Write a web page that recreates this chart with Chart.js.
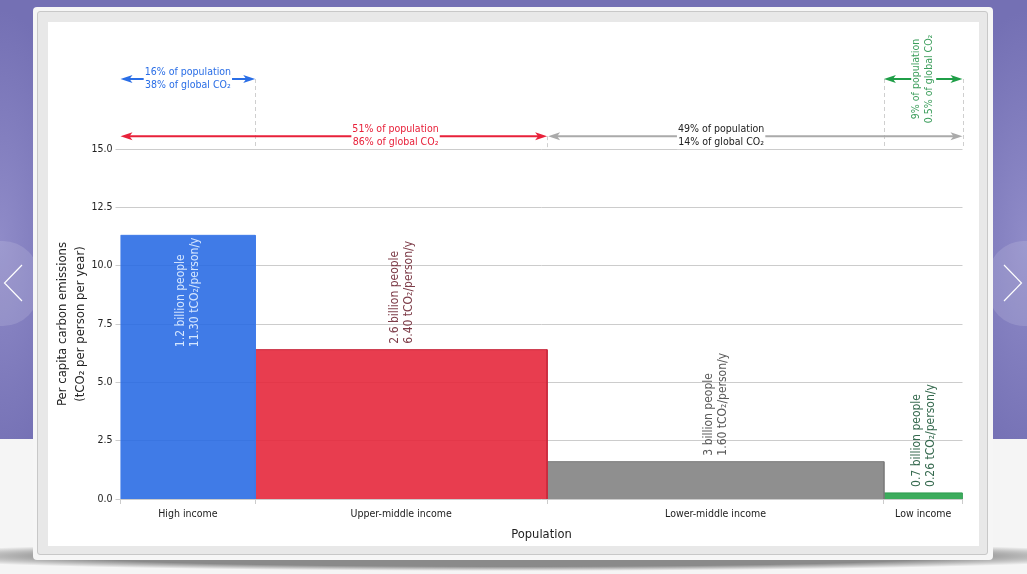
<!DOCTYPE html>
<html>
<head>
<meta charset="utf-8">
<title>Per capita carbon emissions</title>
<script src="https://cdn.jsdelivr.net/npm/chart.js@4"></script>
<style>
  html, body { margin: 0; width: 1027px; height: 574px; overflow: hidden; background: #f5f5f5; }
  #bg { position: absolute; left: 0; top: 0; width: 1027px; height: 439px;
    background:
      radial-gradient(ellipse 80px 230px at 0 240px, #8f8bc8, rgba(143,139,200,0)),
      radial-gradient(ellipse 80px 230px at 1027px 240px, #8f8bc8, rgba(143,139,200,0)),
      #7470b4; }
  #shadow { position: absolute; left: 0; top: 541px; width: 1027px; height: 30px;
    background: radial-gradient(ellipse 620px 15px at 513px 15px, #8a8a8a 70%, rgba(210,210,210,0) 100%); }
  .bubble { position: absolute; top: 241px; width: 64px; height: 85px; background: rgba(255,255,255,.13); }
  #outer { position: absolute; left: 33px; top: 7px; width: 960px; height: 553px; background: #f6f6f6; border-radius: 4px; }
  #inner { position: absolute; left: 4px; top: 4px; width: 949px; height: 542px; background: #e8e8e8; border: 1px solid #c8c8c8; border-radius: 3px; }
  #chart { position: absolute; left: 48px; top: 22px; background: #fff; }
  svg { position: absolute; top: 262px; }
</style>
</head>
<body>
<div id="bg"></div>
<div id="shadow"></div>
<div class="bubble" style="left:-25px;border-radius:0 36px 36px 0"></div>
<div class="bubble" style="left:988px;border-radius:36px 0 0 36px"></div>
<svg style="left:0" width="30" height="44"><polyline points="22,3 4.5,21 22,39" fill="none" stroke="#fff" stroke-width="1.2"/></svg>
<svg style="left:997px" width="30" height="44"><polyline points="7,3 24.5,21 7,39" fill="none" stroke="#fff" stroke-width="1.2"/></svg>
<div id="outer"><div id="inner"></div></div>
<canvas id="chart" width="931" height="524"></canvas>

<script>
const incomeGroups = ["High income", "Upper-middle income", "Lower-middle income", "Low income"];
const populationBillions = [1.2, 2.6, 3, 0.7];
const perCapitaCO2 = [11.3, 6.4, 1.6, 0.26];
const populationShare = ["16%", "51%", "49%", "9%"];
const co2Share = ["38%", "86%", "14%", "0.5%"];
const noteCentres = [0.6, 2.45, 5.35, 7.15];
const yTicks = [0, 2.5, 5, 7.5, 10, 12.5, 15];

const fillColors = ["rgba(38,105,228,.88)", "rgba(229,40,60,.9)", "rgba(128,128,128,.88)", "rgba(33,160,70,.88)"];
const edgeColors = ["#3f7be8", "#c8283c", "#7c7c7c", "#2e9a4e"];
const labelColors = ["#d4e6ff", "#7d3c48", "#5a5a5a", "#35694e"];
const arrowColors = ["#2a6ee6", "#e8213a", "#aaaaaa", "#1f9e47"];
const noteColors = ["#2a6ee6", "#e8213a", "#222222", "#3c9e5c"];
const FONT = '"DejaVu Sans Condensed", "DejaVu Sans", sans-serif';

// cumulative population gives the bar edges
const edges = [0];
populationBillions.forEach(p => edges.push(edges[edges.length - 1] + p));

const datasets = incomeGroups.map((name, i) => ({
  label: name,
  data: [
    { x: edges[i], y: 0 },
    { x: edges[i], y: perCapitaCO2[i] },
    { x: edges[i + 1], y: perCapitaCO2[i] },
    { x: edges[i + 1], y: 0 }
  ],
  backgroundColor: fillColors[i],
  borderColor: edgeColors[i],
  borderWidth: 1,
  fill: "origin",
  pointRadius: 0,
  tension: 0
}));

function arrowHead(ctx, x, y, dir) {
  ctx.beginPath();
  ctx.moveTo(x, y);
  ctx.lineTo(x + dir * 12, y - 4);
  ctx.lineTo(x + dir * 9, y);
  ctx.lineTo(x + dir * 12, y + 4);
  ctx.closePath();
  ctx.fill();
}

function drawNote(ctx, lines, cx, cy, color, rotated) {
  ctx.save();
  ctx.translate(cx, cy);
  if (rotated) ctx.rotate(-Math.PI / 2);
  ctx.font = "10.5px " + FONT;
  ctx.textAlign = "center";
  ctx.textBaseline = "middle";
  const w = Math.max(...lines.map(l => ctx.measureText(l).width));
  ctx.fillStyle = "#fff";
  ctx.fillRect(-w / 2 - 1, -12, w + 2, 25);
  ctx.fillStyle = color;
  ctx.fillText(lines[0], 0, -6.5);
  ctx.fillText(lines[1], 0, 6.5);
  ctx.restore();
}

const annotations = {
  id: "annotations",
  afterDraw(chart) {
    const { ctx, scales: { x, y } } = chart;
    const upper = y.getPixelForValue(18);
    const lower = y.getPixelForValue(15.55);
    const top15 = y.getPixelForValue(15);
    const spans = [
      { from: edges[0], to: edges[1], py: upper, i: 0 },
      { from: edges[0], to: edges[2], py: lower, i: 1 },
      { from: edges[2], to: edges[4], py: lower, i: 2 },
      { from: edges[3], to: edges[4], py: upper, i: 3 }
    ];

    // dashed guides up to the arrows
    ctx.save();
    ctx.strokeStyle = "#cfcfcf";
    ctx.setLineDash([4, 3]);
    [[edges[1], upper], [edges[2], lower], [edges[3], upper], [edges[4], upper]].forEach(([v, py]) => {
      const px = Math.round(x.getPixelForValue(v)) + 0.5;
      ctx.beginPath();
      ctx.moveTo(px, py);
      ctx.lineTo(px, top15);
      ctx.stroke();
    });
    ctx.restore();

    spans.forEach(s => {
      const x0 = x.getPixelForValue(s.from) + (s.i === 2 ? 1 : 0);
      const x1 = x.getPixelForValue(s.to);
      ctx.save();
      ctx.strokeStyle = ctx.fillStyle = arrowColors[s.i];
      ctx.lineWidth = 2;
      ctx.beginPath();
      ctx.moveTo(x0 + 8, s.py);
      ctx.lineTo(x1 - 8, s.py);
      ctx.stroke();
      arrowHead(ctx, x0, s.py, 1);
      arrowHead(ctx, x1, s.py, -1);
      ctx.restore();
      const lines = [`${populationShare[s.i]} of population`, `${co2Share[s.i]} of global CO₂`];
      drawNote(ctx, lines, x.getPixelForValue(noteCentres[s.i]), s.py, noteColors[s.i], s.i === 3);
    });

    // rotated labels above (or inside) each bar
    incomeGroups.forEach((name, i) => {
      const v = perCapitaCO2[i];
      const cx = x.getPixelForValue((edges[i] + edges[i + 1]) / 2) + 0.5;
      const base = (v > 10 ? y.getPixelForValue(6.25) : y.getPixelForValue(v)) - 6;
      ctx.save();
      ctx.translate(cx, base);
      ctx.rotate(-Math.PI / 2);
      ctx.font = "12px " + FONT;
      ctx.textAlign = "left";
      ctx.textBaseline = "middle";
      ctx.fillStyle = labelColors[i];
      ctx.fillText(`${populationBillions[i]} billion people`, 0, -7);
      ctx.fillText(`${v.toFixed(2)} tCO₂/person/y`, 0, 7);
      ctx.restore();
    });
  }
};

new Chart(document.getElementById("chart"), {
  type: "line",
  data: { datasets },
  plugins: [annotations],
  options: {
    responsive: false,
    animation: false,
    devicePixelRatio: 1,
    layout: { padding: { top: 127, right: 16.5, left: 0, bottom: 0 } },
    plugins: { legend: { display: false }, tooltip: { enabled: false } },
    scales: {
      x: {
        type: "linear",
        min: 0,
        max: edges[4],
        afterFit(scale) { scale.height = 47; },
        afterBuildTicks(scale) {
          const t = [];
          edges.forEach((e, i) => {
            t.push({ value: e });
            if (i < 4) t.push({ value: (e + edges[i + 1]) / 2 });
          });
          scale.ticks = t;
        },
        grid: {
          drawOnChartArea: false,
          tickLength: 5,
          tickColor: ctx => (ctx.index % 2 ? "rgba(0,0,0,0)" : "#cccccc")
        },
        border: { display: false },
        ticks: {
          autoSkip: false,
          maxRotation: 0,
          padding: 4,
          color: "#222",
          font: { family: FONT, size: 10.5 },
          callback: (v, i) => (i % 2 ? incomeGroups[(i - 1) / 2] : "")
        },
        title: {
          display: true,
          text: "Population",
          color: "#222",
          font: { family: FONT, size: 12.8 },
          padding: { top: 0, bottom: 4 }
        }
      },
      y: {
        min: 0,
        max: 15,
        afterFit(scale) { scale.width = 72.5; },
        afterBuildTicks(scale) { scale.ticks = yTicks.map(value => ({ value })); },
        grid: { color: "#cccccc", tickColor: "#cccccc", tickLength: 5 },
        border: { display: false },
        ticks: {
          padding: 3,
          color: "#222",
          font: { family: FONT, size: 10.5 },
          callback: v => v.toFixed(1)
        },
        title: {
          display: true,
          text: ["Per capita carbon emissions", "(tCO₂ per person per year)"],
          color: "#222",
          font: { family: FONT, size: 13, lineHeight: 1.35 },
          padding: { top: 6, bottom: 0 }
        }
      }
    }
  }
});
</script>
</body>
</html>
